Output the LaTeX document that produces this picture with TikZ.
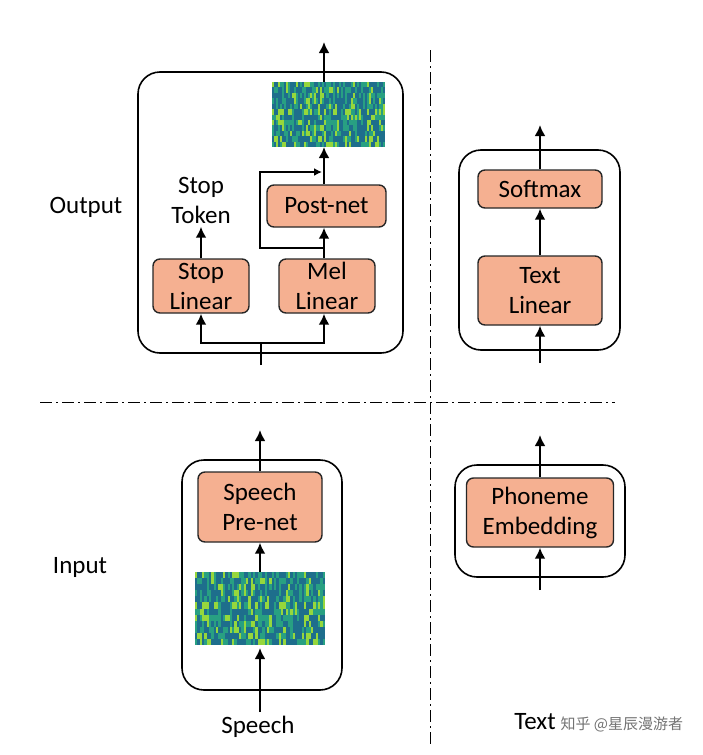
\documentclass[tikz,border=0pt]{standalone}
\usepackage{fontspec}
\setmainfont{Carlito}
\newfontfamily\cjk{Noto Sans CJK SC}
\usetikzlibrary{arrows.meta}
\definecolor{boxfill}{RGB}{245,176,145}
\definecolor{specbg}{RGB}{30,110,140}
\definecolor{specmid}{RGB}{40,160,130}
\definecolor{spechi}{RGB}{150,215,60}
\begin{document}
\begin{tikzpicture}[x=1pt,y=-1pt,
  outer/.style={draw=black,line width=1.6pt,rounded corners=22pt},
  blk/.style={draw=black!85,line width=1.4pt,rounded corners=7pt,fill=boxfill,align=center,inner sep=1pt,font=\fontsize{25}{30}\selectfont},
  arr/.style={line width=2.2pt,-{Latex[length=11pt,width=11pt]}},
  lab/.style={font=\fontsize{25}{30}\selectfont,align=center},
  dsh/.style={line width=1pt,dash pattern=on 12pt off 4pt on 2pt off 4pt}]
\useasboundingbox (0,0) rectangle (702,755);
\newcommand{\spec}[4]{% x1 y1 x2 y2
  \pgfmathsetseed{7}
  \fill[specbg] (#1,#2) rectangle (#3,#4);
  \foreach \i in {0,...,55}{
    \pgfmathsetmacro{\xx}{#1+\i*(#3-#1)/56}
    \pgfmathsetmacro{\ww}{(#3-#1)/56}
    \foreach \j in {0,...,11}{
      \pgfmathsetmacro{\yy}{#2+\j*(#4-#2)/12}
      \pgfmathsetmacro{\r}{rnd*100}
      \pgfmathsetmacro{\gg}{\r>80?2:(\r>45?1:0)}
      \ifdim\gg pt>1.5pt
        \fill[spechi] (\xx,\yy) rectangle ++(\ww,{(#4-#2)/12});
      \else\ifdim\gg pt>0.5pt
        \fill[specmid] (\xx,\yy) rectangle ++(\ww,{(#4-#2)/12});
      \fi\fi
    }
  }
}
% dividers
\draw[dsh] (430,50) -- (430,745);
\draw[dsh] (40,402) -- (615,402);
% top-left
\node[outer,minimum width=265pt,minimum height=281pt] (tl) at (270.5,212.5) {};
\spec{272}{82}{385}{147}
\coordinate (sp1) at (328.5,147);
\coordinate (sp1t) at (324,82);
\node[blk,minimum width=119pt,minimum height=42pt] (post) at (326.5,206) {Post-net};
\node[blk,minimum width=96pt,minimum height=54pt] (mel) at (327,286) {Mel\\Linear};
\node[blk,minimum width=96pt,minimum height=54pt] (stop) at (201,286) {Stop\\Linear};
\node[lab] (st) at (201,200) {Stop\\Token};
\coordinate (top1) at (324,42);
\coordinate (in1) at (261,365);
\coordinate (j1) at (261,343);
\draw[arr] (sp1t) -- (top1);
\draw[arr] (post.north -| sp1t) -- (sp1t |- sp1);
\draw[arr] (mel.north -| sp1t) -- (post.south -| sp1t);
\draw[line width=1.6pt,-{Latex[length=8pt,width=8pt]}] (324,248) -- (260,248) -- (260,172) -- (322,172);
\draw[arr] (stop.north) -- (st.south);
\draw[line width=2.2pt] (in1) -- (j1);
\draw[arr] (j1) -- (201,343) -- (stop.south);
\draw[arr] (j1) -- (324,343) -- (mel.south -| sp1t);
\node[lab] (out) at (86,207) {Output};
% top-right
\node[outer,minimum width=161pt,minimum height=200pt] (tr) at (539.5,250) {};
\node[blk,minimum width=124pt,minimum height=38pt] (soft) at (540,189) {Softmax};
\node[blk,minimum width=124pt,minimum height=69pt] (tlin) at (540,290.5) {Text\\Linear};
\coordinate (tri) at (540,363);
\coordinate (tro) at (540,125);
\draw[arr] (tri) -- (tlin.south);
\draw[arr] (tlin.north) -- (soft.south);
\draw[arr] (soft.north) -- (tro);
% bottom-left
\node[outer,minimum width=160pt,minimum height=230pt] (bl) at (262,575) {};
\node[blk,minimum width=124pt,minimum height=70pt] (pre) at (260,507) {Speech\\Pre-net};
\spec{195}{572}{325}{645}
\coordinate (sp2t) at (260,572);
\coordinate (sp2b) at (260,648);
\coordinate (bli) at (260,712);
\coordinate (blo) at (260,430);
\draw[arr] (bli) -- (sp2b);
\draw[arr] (sp2t) -- (pre.south);
\draw[arr] (pre.north) -- (blo);
\node[lab] (inp) at (80,567) {Input};
\node[lab] (spc) at (258,727) {Speech};
% bottom-right
\node[outer,minimum width=170pt,minimum height=112pt] (br) at (540,521) {};
\node[blk,minimum width=147pt,minimum height=69pt] (ph) at (540,512.5) {Phoneme\\Embedding};
\coordinate (bri) at (540,590);
\coordinate (bro) at (540,435);
\draw[arr] (bri) -- (ph.south);
\draw[arr] (ph.north) -- (bro);
\node[lab] (txt) at (535,722) {Text};
\node[font=\cjk\fontsize{15}{18}\selectfont,text=black!55,anchor=west] (wm) at (557,724) {知乎 @星辰漫游者};
\end{tikzpicture}
\end{document}
